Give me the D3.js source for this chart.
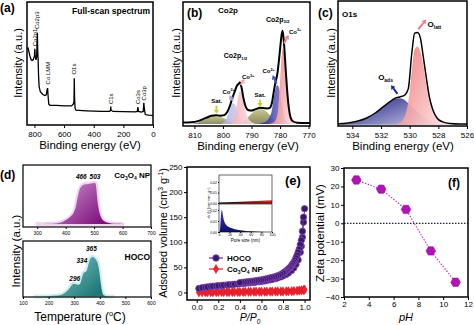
<!DOCTYPE html>
<html lang="en">
<head>
<meta charset="UTF-8">
<title>Co3O4 / HOCO characterisation</title>
<script src="https://cdn.jsdelivr.net/npm/d3@7"></script>
<style>
  body { margin: 0; background: #fff; }
</style>
</head>
<body>
<svg id="fig" width="474" height="325"></svg>
<script>
// ---------- data ----------
// (a) XPS survey: [binding energy eV, intensity]
const survey = [[850,62],[843,62.6],[838,60],[830,56],[822,53],[815,52.5],[808,53],[800,56],[797,62],[795,57],[790,53],[785,55],[782,66],[780,75],[778,62],[775,53],[772,40],[768,31],[760,27],[745,25],[730,24],[720,24.5],[714,29],[711,30],[708,24],[703,17],[695,16],[650,16],[600,15.5],[550,15.5],[538,17],[533,19],[531,38],[529,22],[526,13.8],[520,12],[450,11.5],[350,11],[292,11],[287,12],[285,15],[283,12],[270,11],[200,10.8],[120,10.6],[106,11],[102,14.6],[98,11],[80,10.5],[66,11],[62,18],[58,13],[52,8.5],[30,8],[0,7.8]];
const surveyPeaks = [["Co2p1",797,64],["Co2p3",780,78],["Co LMM",711,33],["O1s",531,41],["C1s",285,17],["Co3s",102,17],["Co3p",62,20]];

// (b) Co2p high resolution
const co2pEnv = [[814,1.2],[811,1.4],[808.5,2.6],[806,5],[804,6.8],[802.5,7.3],[801,6.9],[799.5,7.3],[798.5,9.8],[797.5,15.3],[796.6,22],[795.8,27],[795.2,31],[794.6,32.8],[794.1,34],[793.5,30],[792.8,21],[792,14],[791.2,11.5],[790,11],[788.5,12.2],[787,13.3],[785.5,13],[784.5,12.8],[783.5,13.5],[782.8,17.8],[782.2,26.3],[781.6,34.3],[781,40.3],[780.4,51.8],[779.8,65.8],[779.4,73.8],[779.1,76.5],[778.6,65.8],[778.1,47.8],[777.6,30.3],[777,14.8],[776.3,5.3],[775.5,2.3],[774,1.1],[772,0.9],[769.5,0.8]];
const sat1 = [[811,0],[808.5,1.5],[806,4.2],[804,6],[802.5,6.5],[801,6],[799.5,4.5],[798,2.5],[796,1],[793.5,0]];
const sat2 = [[796,0],[794,1],[792.5,3],[791.2,5.5],[790,8.5],[788.5,11.2],[787,12.3],[785.5,11.5],[784,8.5],[782.5,4.5],[781,1.5],[779,0]];
const co2Half = [[801,0],[799.5,2],[798.5,6],[797.5,12],[796.6,17],[795.8,16],[795,11],[794,5],[793,1.5],[791.5,0]];
const co3Half = [[798,0],[797,1],[796,5],[795.2,15],[794.6,23],[794.1,27],[793.5,25],[792.8,18],[792,10],[791.2,5],[790.2,2],[789,0.5],[788,0]];
const co2ThreeHalf = [[787.5,0],[786,1],[784.5,3],[783.5,6.5],[782.8,12],[782.2,21],[781.6,28.5],[781,32],[780.4,30],[779.8,23],[779.2,14],[778.5,6],[777.8,2],[776.5,0]];
const co3ThreeHalf = [[784,0],[782.5,1],[781.5,3.5],[780.8,10],[780.2,27],[779.6,50],[779.1,62],[778.6,58],[778.1,44],[777.6,28],[777,13],[776.3,4.5],[775.5,1.5],[774,0]];

// (c) O1s high resolution
const o1sEnv = [[535,0.8],[534.3,1.5],[533.6,3],[533,5.5],[532.4,9.5],[531.9,14],[531.4,18.5],[531,21.5],[530.7,22.5],[530.4,23.5],[530.1,29],[529.85,58],[529.65,74],[529.45,74.5],[529.25,70],[529.05,55],[528.85,39],[528.65,24],[528.4,12.5],[528.1,5.5],[527.7,2.3],[527.2,1],[526.5,0.6],[526,0.6]];
const oAds = [[535,0.3],[534.3,1],[533.6,2.5],[533,5],[532.4,9],[531.9,13.5],[531.4,18],[531,21],[530.7,21.5],[530.4,20.5],[530.1,17.5],[529.8,14],[529.4,10],[529,6],[528.5,2.8],[528,1],[527.2,0.2],[526.5,0]];
const oLatt = [[531.2,0],[530.8,1],[530.5,3.5],[530.25,10],[530.05,22],[529.85,44],[529.65,61],[529.45,63],[529.25,59],[529.05,48],[528.85,34],[528.65,21],[528.4,10],[528.1,4.5],[527.7,1.5],[527.2,0.4],[526.5,0]];

// (d) H2-TPR profiles: [temperature C, intensity]
const tprCo3O4 = [[300,0],[340,0.5],[370,1.5],[390,4],[405,8],[418,13],[428,19],[436,30],[442,45],[448,57],[456,64],[466,67],[480,68],[495,69],[503,70],[507,64],[510,48],[514,32],[519,19],[526,10],[535,5],[545,2.5],[560,1],[580,0.3],[600,0]];
const tprHoco = [[150,0],[200,0.5],[230,1.5],[255,4],[270,9],[282,15],[292,21],[298,23],[306,22],[316,21],[324,24],[330,33],[336,42],[342,44],[348,46],[354,55],[360,65],[366,70],[372,71],[380,69],[388,64],[394,56],[398,45],[402,30],[406,16],[410,7],[415,2],[425,0.5],[450,0]];
const tprCo3O4Peaks = [466, 503];
const tprHocoPeaks = [296, 334, 365];

// (e) N2 isotherms: relative pressure and adsorbed volume
const hocoAdsP = [0.02,0.05,0.08,0.10,0.13,0.15,0.18,0.20,0.23,0.25,0.28,0.30,0.33,0.35,0.38,0.40,0.43,0.45,0.48,0.50,0.53,0.55,0.58,0.60,0.63,0.65,0.68,0.70,0.73,0.75,0.78,0.80,0.83,0.85,0.88,0.90,0.92,0.94,0.96,0.97,0.98,0.99,1.0];
const hocoAdsV = [8,9.5,10.5,11,12,12.5,13,13.5,14,14.5,15,15.5,16,16.5,17,17.5,18,18.5,19,19.5,20,21,21.5,22,23,24,25,26,27.5,29,31,33,36,39,44,49,56,65,80,92,110,140,167];
const hocoDesP = [0.99,0.98,0.97,0.96,0.95,0.94,0.93,0.92,0.91,0.90,0.89,0.88,0.87,0.86,0.85,0.84,0.83,0.82,0.81,0.80,0.78,0.76,0.74,0.72,0.70,0.68,0.66,0.64,0.62,0.60,0.58,0.56,0.54,0.52,0.50,0.48,0.46,0.44,0.42,0.40];
const hocoDesV = [150,122,104,95,86,80,74,69,64,60,57,54,51,49,47,45,43,41.5,40,38.5,36,34,32.5,31,30,29,28,27,26,25,24.5,24,23,22.5,22,21.5,21,20.5,20,19.5];
const cooP = [0.02,0.05,0.08,0.1,0.13,0.15,0.18,0.2,0.23,0.25,0.28,0.3,0.33,0.35,0.38,0.4,0.43,0.45,0.48,0.5,0.53,0.55,0.58,0.6,0.63,0.65,0.68,0.7,0.73,0.75,0.78,0.8,0.83,0.85,0.88,0.9,0.93,0.95,0.97,0.99,1.0];
const cooV = [0.3,0.4,0.5,0.5,0.6,0.6,0.7,0.7,0.8,0.8,0.9,0.9,1,1,1,1.1,1.1,1.2,1.2,1.3,1.3,1.4,1.4,1.5,1.5,1.6,1.7,1.7,1.8,1.9,2,2.1,2.2,2.4,2.6,2.9,3.3,3.7,4.2,4.8,5.5];
// inset: pore size distribution [nm, dv(r)]
const psdHoco = [[1.5,0],[2.5,0.006],[3.5,0.014],[4.5,0.019],[5.5,0.0205],[6.5,0.018],[8,0.0135],[10,0.0095],[13,0.0068],[17,0.005],[22,0.0038],[30,0.0025],[40,0.0016],[50,0.001],[60,0.0006],[75,0.0003],[100,0.0001]];
const psdCoo = [[0,0.0003],[20,0.0007],[40,0.0011],[60,0.0016],[80,0.0021],[100,0.0026]];

// (f) zeta potential vs pH
const phValues = [3, 5, 7, 9, 11];
const zetaValues = [23.5, 18.5, 7.5, -15, -32];

// ---------- helpers ----------
const FONT = "Arial, 'Liberation Sans', sans-serif";
const svg = d3.select("#fig").attr("font-family", FONT);
const defs = svg.append("defs");

function grad(id, x2, y2, stops) {
  const g = defs.append("linearGradient").attr("id", id)
    .attr("x1", 0).attr("y1", 0).attr("x2", x2).attr("y2", y2);
  stops.forEach(([o, c]) => g.append("stop").attr("offset", o).attr("stop-color", c));
}

function box(x, y, sw = 1.5) {
  const [x0, x1] = x.range(), [y0, y1] = y.range();
  svg.append("rect")
    .attr("x", Math.min(x0, x1)).attr("y", Math.min(y0, y1))
    .attr("width", Math.abs(x1 - x0)).attr("height", Math.abs(y1 - y0))
    .attr("fill", "none").attr("stroke", "#000").attr("stroke-width", sw);
}

function xAxis(x, y0, ticks, fmt, fs, size = 3, pad = 2) {
  const g = svg.append("g").attr("transform", `translate(0,${y0})`)
    .call(d3.axisBottom(x).tickValues(ticks).tickFormat(fmt).tickSize(size).tickPadding(pad));
  g.select(".domain").remove();
  g.attr("font-family", FONT).attr("font-size", fs);
  g.selectAll("line").attr("stroke-width", 1);
  return g;
}

function yAxis(y, x0, ticks, fmt, fs, size = 3, pad = 2) {
  const g = svg.append("g").attr("transform", `translate(${x0},0)`)
    .call(d3.axisLeft(y).tickValues(ticks).tickFormat(fmt).tickSize(size).tickPadding(pad));
  g.select(".domain").remove();
  g.attr("font-family", FONT).attr("font-size", fs);
  g.selectAll("line").attr("stroke-width", 1);
  return g;
}

// text made of normal / sup / sub pieces
function rich(t, parts, fs) {
  let shift = 0;
  parts.forEach(([s, k]) => {
    const target = k === "sup" ? -0.38 * fs : k === "sub" ? 0.28 * fs : 0;
    t.append("tspan").attr("dy", target - shift)
      .attr("font-size", k ? fs * 0.62 : fs).text(s);
    shift = target;
  });
  return t;
}

function label(x, y, parts, fs, opts = {}) {
  const t = svg.append("text").attr("x", x).attr("y", y)
    .attr("font-size", fs)
    .attr("font-weight", opts.bold ? "bold" : null)
    .attr("font-style", opts.italic ? "italic" : null)
    .attr("text-anchor", opts.anchor || "start")
    .attr("fill", opts.fill || "#000");
  return rich(t, typeof parts === "string" ? [[parts]] : parts, fs);
}

function yTitle(x, y, parts, fs) {
  const t = svg.append("text").attr("transform", `translate(${x},${y}) rotate(-90)`)
    .attr("text-anchor", "middle").attr("font-size", fs);
  return rich(t, typeof parts === "string" ? [[parts]] : parts, fs);
}

function arrow(p0, p1, color, w = 2) {
  const dx = p1[0] - p0[0], dy = p1[1] - p0[1], L = Math.hypot(dx, dy);
  const ux = dx / L, uy = dy / L, hl = 4, hw = 2.6;
  const bx = p1[0] - ux * hl, by = p1[1] - uy * hl;
  svg.append("line").attr("x1", p0[0]).attr("y1", p0[1]).attr("x2", bx).attr("y2", by)
    .attr("stroke", color).attr("stroke-width", w);
  svg.append("path")
    .attr("d", `M${p1[0]},${p1[1]}L${bx - uy * hw},${by + ux * hw}L${bx + uy * hw},${by - ux * hw}Z`)
    .attr("fill", color);
}

// ---------- gradients ----------
grad("gSat", 0, 1, [[0, "#c2c27c"], [1, "#7e7e58"]]);
grad("gLav", 1, 0, [[0, "#a9a9e2"], [1, "#dedef5"]]);
grad("gPinkLt", 1, 0, [[0, "#f2aab4"], [1, "#fde6e8"]]);
grad("gNavy", 1, 0, [[0, "#23239a"], [1, "#8c8cd6"]]);
grad("gRed", 1, 0.4, [[0, "#ec6464"], [1, "#fbd6d6"]]);
grad("gOads", 1, 0.6, [[0, "#e4e4f4"], [0.25, "#2c2c8c"], [1, "#c4c4e6"]]);
grad("gOlatt", 1, 0.5, [[0, "#f06a6a"], [1, "#fcdcdc"]]);
grad("gPurple", 1, 0.5, [[0, "#e4b4e4"], [1, "#7c0e7c"]]);
grad("gTeal", 1, 0.5, [[0, "#a8dcdc"], [1, "#1d7878"]]);
grad("gPsd", 0, 1, [[0, "#3a3ab8"], [1, "#10106e"]]);
grad("gWedge", 1, 0, [[0, "#000"], [0.5, "#a01818"], [1, "#ee2020"]]);

// ---------- (a) survey ----------
const xA = d3.scaleLinear().domain([850, 0]).range([27, 153]);
const yA = d3.scaleLinear().domain([0, 100]).range([125, 2]);
svg.append("path").datum(survey)
  .attr("d", d3.line().x(d => xA(d[0])).y(d => yA(d[1])))
  .attr("fill", "none").attr("stroke", "#000").attr("stroke-width", 1.3);
surveyPeaks.forEach(([name, e, v]) => {
  svg.append("text").attr("transform", `translate(${xA(e) + 2},${yA(v)}) rotate(-90)`)
    .attr("font-size", 6).text(name);
});
box(xA, yA);
xAxis(xA, 125, [800, 600, 400, 200, 0], d3.format("d"), 8, 3, 3);
yTitle(22, 63, "Intensity (a.u.)", 11);
label(90, 149, "Binding energy (eV)", 11.5, { anchor: "middle" });
label(0, 12, "(a)", 12, { bold: true });
label(150, 14, "Full-scan spectrum", 8.5, { bold: true, anchor: "end" });

// ---------- (b) Co2p ----------
const xB = d3.scaleLinear().domain([814, 769.5]).range([183, 310]);
const yB = d3.scaleLinear().domain([-1.6, 100]).range([126, 2]);
const areaB = d3.area().curve(d3.curveMonotoneX).x(d => xB(d[0])).y0(yB(0)).y1(d => yB(d[1]));
[[sat1, "url(#gSat)"], [sat2, "url(#gSat)"], [co2Half, "url(#gLav)"], [co3Half, "url(#gPinkLt)"],
 [co2ThreeHalf, "url(#gNavy)"], [co3ThreeHalf, "url(#gRed)"]].forEach(([d, f]) => {
  svg.append("path").datum(d).attr("d", areaB).attr("fill", f).attr("opacity", 0.9);
});
svg.append("path").datum(co2pEnv)
  .attr("d", d3.line().curve(d3.curveMonotoneX).x(d => xB(d[0])).y(d => yB(d[1])))
  .attr("fill", "none").attr("stroke", "#000").attr("stroke-width", 2);
const pB = (e, v) => [xB(e), yB(v)];
arrow(pB(802.3, 15), pB(802.3, 8.5), "#c6d024", 1.8);
arrow(pB(787, 20), pB(787, 14), "#c6d024", 1.8);
arrow(pB(796.5, 19), pB(797.8, 23.5), "#a4a4e0");
arrow(pB(793.8, 32), pB(792.4, 37), "#f2a8b2");
arrow(pB(781.2, 33), pB(782.6, 40), "#3a56b0");
arrow(pB(778.6, 66), pB(777, 73), "#ee8090");
const ion = (c) => [["Co"], [c, "sup"]];
label(xB(802.2), yB(17), "Sat.", 6, { bold: true, anchor: "middle" });
label(xB(787), yB(22), "Sat.", 6, { bold: true, anchor: "middle" });
label(xB(798), yB(25), ion("2+"), 6, { bold: true, anchor: "middle" });
label(xB(791.2), yB(37), ion("3+"), 6, { bold: true, anchor: "middle" });
label(xB(784), yB(42), ion("2+"), 6, { bold: true, anchor: "middle" });
label(xB(774.7), yB(74), ion("3+"), 6, { bold: true, anchor: "middle" });
label(xB(795.6), yB(54), [["Co2p"], ["1/2", "sub"]], 7, { bold: true, anchor: "middle" });
label(xB(780.8), yB(84), [["Co2p"], ["3/2", "sub"]], 7, { bold: true, anchor: "middle" });
box(xB, yB);
xAxis(xB, 126, [810, 800, 790, 780, 770], d3.format("d"), 8, 3, 3);
yTitle(180, 63, "Intensity (a.u.)", 11);
label(248, 150, "Binding energy (eV)", 11.5, { anchor: "middle" });
label(187, 17, "(b)", 12, { bold: true });
label(218, 13, "Co2p", 8, { bold: true });

// ---------- (c) O1s ----------
const xC = d3.scaleLinear().domain([535, 526]).range([338, 467]);
const yC = d3.scaleLinear().domain([-1, 100]).range([126, 1]);
const areaC = d3.area().curve(d3.curveMonotoneX).x(d => xC(d[0])).y0(yC(0)).y1(d => yC(d[1]));
svg.append("path").datum(oAds).attr("d", areaC).attr("fill", "url(#gOads)").attr("opacity", 0.92);
svg.append("path").datum(oLatt).attr("d", areaC).attr("fill", "url(#gOlatt)").attr("opacity", 0.9);
svg.append("path").datum(o1sEnv)
  .attr("d", d3.line().curve(d3.curveMonotoneX).x(d => xC(d[0])).y(d => yC(d[1])))
  .attr("fill", "none").attr("stroke", "#000").attr("stroke-width", 1.5);
arrow([xC(529.4), yC(77)], [xC(528.85), yC(85)], "#f07c88");
arrow([xC(530.85), yC(25)], [xC(531.3), yC(32)], "#1e2a8a");
label(xC(528.75), yC(79), [["O"], ["latt", "sub"]], 8, { bold: true });
label(xC(532.2), yC(36), [["O"], ["ads", "sub"]], 8, { bold: true });
box(xC, yC);
xAxis(xC, 126, [534, 532, 530, 528, 526], d3.format("d"), 8, 3, 3);
yTitle(335, 63, "Intensity (a.u.)", 11);
label(403, 150, "Binding energy (eV)", 11.5, { anchor: "middle" });
label(318, 17, "(c)", 12, { bold: true });
label(342, 17, "O1s", 8, { bold: true });

// ---------- (d) TPR ----------
const xD1 = d3.scaleLinear().domain([250, 700]).range([23, 151]);
const yD1 = d3.scaleLinear().domain([-5, 100]).range([227, 165]);
const xD2 = d3.scaleLinear().domain([100, 600]).range([23, 151]);
const yD2 = d3.scaleLinear().domain([-1, 100]).range([297, 241]);
function tpr(data, x, y, fill, halo) {
  const a = d3.area().curve(d3.curveMonotoneX).x(d => x(d[0])).y0(y(0)).y1(d => y(d[1]));
  svg.append("path").datum(data).attr("d", a).attr("fill", halo)
    .attr("stroke", halo).attr("stroke-width", 4).attr("stroke-linejoin", "round");
  svg.append("path").datum(data).attr("d", a).attr("fill", fill);
}
tpr(tprCo3O4, xD1, yD1, "url(#gPurple)", "#f0d4f0");
tpr(tprHoco, xD2, yD2, "url(#gTeal)", "#cdeeee");
box(xD1, yD1, 1.2);
box(xD2, yD2, 1.2);
xAxis(xD1, 227, [300, 400, 500, 600, 700], d3.format("d"), 5, 2, 2);
xAxis(xD2, 297, [100, 200, 300, 400, 500, 600], d3.format("d"), 5, 2, 2);
label(xD1(455), yD1(77), String(tprCo3O4Peaks[0]), 6.5, { bold: true, italic: true, anchor: "middle" });
label(xD1(503), yD1(77), String(tprCo3O4Peaks[1]), 6.5, { bold: true, italic: true, anchor: "middle" });
label(xD2(302), yD2(27), String(tprHocoPeaks[0]), 6.5, { bold: true, italic: true, anchor: "middle" });
label(xD2(330), yD2(61), String(tprHocoPeaks[1]), 6.5, { bold: true, italic: true, anchor: "middle" });
label(xD2(367), yD2(82), String(tprHocoPeaks[2]), 6.5, { bold: true, italic: true, anchor: "middle" });
label(150, 178, [["Co"], ["3", "sub"], ["O"], ["4", "sub"], [" NP"]], 8, { bold: true, anchor: "end" });
label(150, 260, "HOCO", 8.5, { bold: true, anchor: "end" });
yTitle(20, 251, "Intensity (a.u.)", 11.5);
label(80, 321, [["Temperature ("], ["o", "sup"], ["C)"]], 12, { anchor: "middle" });
label(0, 179, "(d)", 12, { bold: true });

// ---------- (e) isotherms ----------
const xE = d3.scaleLinear().domain([-0.09, 1.05]).range([187, 310]);
const yE = d3.scaleLinear().domain([-15, 250]).range([300, 167]);
const hocoAds = hocoAdsP.map((p, i) => [p, hocoAdsV[i]]);
const hocoDes = hocoDesP.map((p, i) => [p, hocoDesV[i]]);
const coo = cooP.map((p, i) => [p, cooV[i]]);
const lineE = d3.line().x(d => xE(d[0])).y(d => yE(d[1]));
svg.append("path").datum(coo).attr("d", lineE).attr("fill", "none").attr("stroke", "#e2202c").attr("stroke-width", 1);
svg.selectAll(".coo").data(coo).join("path")
  .attr("transform", d => `translate(${xE(d[0])},${yE(d[1])})`)
  .attr("d", d3.symbol(d3.symbolDiamond, 26))
  .attr("fill", "#ee2230").attr("stroke", "#c0101c").attr("stroke-width", 0.4);
[hocoAds, hocoDes].forEach(series => {
  svg.append("path").datum(series).attr("d", lineE).attr("fill", "none")
    .attr("stroke", "#6a2c9a").attr("stroke-width", 1);
  svg.append("g").selectAll("circle").data(series).join("circle")
    .attr("cx", d => xE(d[0])).attr("cy", d => yE(d[1])).attr("r", 3.2)
    .attr("fill", "#35196a").attr("stroke", "#8a48b6").attr("stroke-width", 0.8);
});
box(xE, yE);
xAxis(xE, 300, [0, 0.2, 0.4, 0.6, 0.8, 1.0], d3.format(".1f"), 8, 3, 1.5);
yAxis(yE, 187, [0, 50, 100, 150, 200, 250], d3.format("d"), 8, 3, 1.5);
yTitle(167, 233, [["Adsorbed volume (cm"], ["3", "sup"], [" g"], ["-1", "sup"], [")"]], 11);
label(250, 321, [["P/P"], ["0", "sub"]], 10.5, { italic: true, anchor: "middle" });
label(285, 185, "(e)", 13, { bold: true });
// legend
svg.append("line").attr("x1", 209).attr("x2", 223).attr("y1", 258).attr("y2", 258).attr("stroke", "#6a2c9a").attr("stroke-width", 1.2);
svg.append("circle").attr("cx", 216).attr("cy", 258).attr("r", 3.3).attr("fill", "#35196a").attr("stroke", "#8a48b6").attr("stroke-width", 0.8);
svg.append("line").attr("x1", 209).attr("x2", 223).attr("y1", 269).attr("y2", 269).attr("stroke", "#e2202c").attr("stroke-width", 1.2);
svg.append("path").attr("transform", "translate(216,269)").attr("d", d3.symbol(d3.symbolDiamond, 30)).attr("fill", "#ee2230");
label(227, 261, "HOCO", 8, { bold: true });
label(227, 272, [["Co"], ["3", "sub"], ["O"], ["4", "sub"], [" NP"]], 8, { bold: true });

// inset: pore size distribution
const xI = d3.scaleLinear().domain([0, 100]).range([219, 272]);
const yIt = d3.scaleLinear().domain([0, 0.0267]).range([203, 175]);
const yIb = d3.scaleLinear().domain([0, 0.0255]).range([232, 204]);
svg.append("rect").attr("x", 219).attr("y", 175).attr("width", 53).attr("height", 57).attr("fill", "#fff");
svg.append("path").datum(psdCoo)
  .attr("d", d3.area().x(d => xI(d[0])).y0(yIt(-0.0008)).y1(d => yIt(d[1])))
  .attr("fill", "url(#gWedge)");
svg.append("path").datum(psdHoco)
  .attr("d", d3.area().curve(d3.curveMonotoneX).x(d => xI(d[0])).y0(yIb(0)).y1(d => yIb(d[1])))
  .attr("fill", "url(#gPsd)");
box(xI, yIt, 0.6);
box(xI, yIb, 0.6);
yAxis(yIt, 219, [0, 0.01, 0.02], d3.format(".2f"), 3.5, 1, 1);
yAxis(yIb, 219, [0, 0.01, 0.02], d3.format(".2f"), 3.5, 1, 1);
xAxis(xI, 232, [0, 20, 40, 60, 80, 100], d3.format("d"), 3.5, 1, 1);
label(245.5, 242, "Pore size (nm)", 4.5, { anchor: "middle" });
yTitle(210, 203, [["dv (r) (cm"], ["3", "sup"], [" nm"], ["-1", "sup"], [" g"], ["-1", "sup"], [")"]], 3.6);

// ---------- (f) zeta potential ----------
const xF = d3.scaleLinear().domain([2, 12]).range([344, 468]);
const yF = d3.scaleLinear().domain([-40, 30]).range([297, 168]);
const zeta = phValues.map((p, i) => [p, zetaValues[i]]);
svg.append("line").attr("x1", xF(2)).attr("x2", xF(12)).attr("y1", yF(0)).attr("y2", yF(0))
  .attr("stroke", "#1c1c6c").attr("stroke-width", 1.3).attr("stroke-dasharray", "1.5,1.5");
svg.append("path").datum(zeta)
  .attr("d", d3.line().x(d => xF(d[0])).y(d => yF(d[1])))
  .attr("fill", "none").attr("stroke", "#c03cc0").attr("stroke-width", 1.2).attr("stroke-dasharray", "1.5,1.5");
const hex = d3.range(6).map(k => [4.8 * Math.cos(Math.PI / 3 * k), 4.8 * Math.sin(Math.PI / 3 * k)]);
svg.append("g").selectAll("path").data(zeta).join("path")
  .attr("transform", d => `translate(${xF(d[0])},${yF(d[1])})`)
  .attr("d", "M" + hex.join("L") + "Z")
  .attr("fill", "#b014b4").attr("stroke", "#9a0aa0").attr("stroke-width", 0.6);
box(xF, yF);
xAxis(xF, 297, [2, 4, 6, 8, 10, 12], d3.format("d"), 8, 3, 1.5);
yAxis(yF, 344, [-40, -30, -20, -10, 0, 10, 20, 30], d3.format("d"), 8, 3, 1.5);
yTitle(324, 233, "Zeta potential (mV)", 11.5);
label(406, 321, "pH", 11, { italic: true, anchor: "middle" });
label(448, 187, "(f)", 12, { bold: true });
</script>
</body>
</html>
